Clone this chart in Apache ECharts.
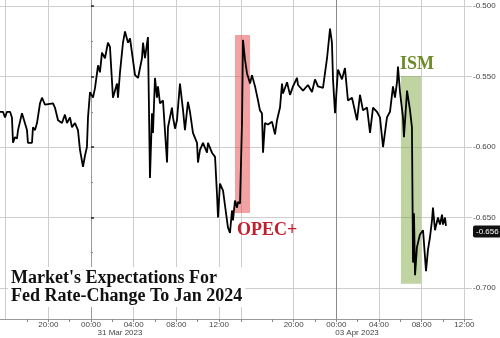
<!DOCTYPE html>
<html>
<head>
<meta charset="utf-8">
<script src="https://cdn.jsdelivr.net/npm/echarts@6/dist/echarts.min.js"></script>
<style>html,body{margin:0;padding:0;background:#fff;}#c{width:500px;height:338px;}</style>
</head>
<body>
<div id="c"></div>
<script>
// x = hours on the chart's compressed trading clock (0 = 00:00, 31 Mar 2023)
const times = [-8.53,-8.25,-8.06,-7.88,-7.59,-7.41,-7.31,-7.13,-6.94,-6.84,-6.47,-6.38,-6.0,-5.91,-5.53,-5.44,-5.25,-5.06,-4.78,-4.59,-4.31,-3.56,-3.38,-3.09,-2.72,-2.44,-2.25,-1.97,-1.78,-1.5,-1.22,-1.03,-0.75,-0.56,-0.38,-0.28,-0.09,0.19,0.38,0.66,0.84,1.03,1.31,1.59,1.78,2.06,2.44,2.53,2.72,3.0,3.19,3.47,3.66,3.84,4.13,4.41,4.78,4.88,5.06,5.34,5.53,5.72,5.81,6.0,6.19,6.28,6.47,6.75,7.13,7.22,7.59,7.69,7.88,8.06,8.34,8.63,8.81,9.09,9.28,9.56,9.94,10.03,10.22,10.5,10.88,10.97,11.34,11.63,11.81,11.91,12.09,12.38,12.75,12.84,13.03,13.22,13.31,13.5,13.69,13.78,13.97,14.16,14.25,14.44,14.63,14.72,14.91,15.09,15.38,15.66,15.84,16.03,16.13,16.31,16.59,16.97,17.25,17.44,17.72,17.91,18.0,18.38,18.66,18.94,19.31,19.41,19.88,20.34,20.72,21.0,21.28,21.75,22.13,22.41,22.59,22.69,22.88,23.16,23.53,23.81,24.09,24.47,24.94,25.22,25.5,25.88,26.16,26.44,26.81,27.09,27.38,27.75,28.03,28.22,28.31,28.5,28.69,28.78,28.97,29.25,29.34,29.63,29.72,29.91,30.09,30.19,30.28,30.38,30.56,30.84,31.13,31.41,31.59,31.78,31.97,32.06,32.25,32.53,32.72,32.91,33.0,33.19,33.28];
const values = [-0.575,-0.575,-0.579,-0.575,-0.575,-0.579,-0.597,-0.593,-0.594,-0.588,-0.576,-0.575,-0.588,-0.597,-0.597,-0.586,-0.588,-0.583,-0.569,-0.565,-0.570,-0.569,-0.572,-0.581,-0.583,-0.577,-0.583,-0.579,-0.586,-0.583,-0.588,-0.602,-0.614,-0.606,-0.600,-0.579,-0.561,-0.565,-0.558,-0.542,-0.547,-0.533,-0.537,-0.526,-0.529,-0.565,-0.555,-0.565,-0.547,-0.526,-0.518,-0.526,-0.523,-0.533,-0.549,-0.551,-0.537,-0.526,-0.537,-0.522,-0.622,-0.576,-0.590,-0.551,-0.565,-0.557,-0.569,-0.567,-0.611,-0.586,-0.572,-0.579,-0.587,-0.581,-0.555,-0.574,-0.588,-0.568,-0.575,-0.590,-0.597,-0.611,-0.602,-0.597,-0.604,-0.597,-0.604,-0.607,-0.633,-0.650,-0.626,-0.631,-0.652,-0.657,-0.661,-0.645,-0.652,-0.638,-0.643,-0.639,-0.640,-0.582,-0.524,-0.538,-0.548,-0.550,-0.555,-0.549,-0.557,-0.567,-0.574,-0.576,-0.604,-0.583,-0.584,-0.582,-0.591,-0.581,-0.572,-0.555,-0.562,-0.554,-0.563,-0.557,-0.551,-0.556,-0.560,-0.556,-0.561,-0.552,-0.557,-0.558,-0.537,-0.516,-0.526,-0.552,-0.576,-0.545,-0.552,-0.544,-0.567,-0.565,-0.581,-0.563,-0.574,-0.572,-0.590,-0.572,-0.575,-0.579,-0.600,-0.579,-0.575,-0.563,-0.557,-0.565,-0.554,-0.543,-0.561,-0.579,-0.593,-0.560,-0.560,-0.574,-0.586,-0.682,-0.647,-0.691,-0.671,-0.662,-0.659,-0.688,-0.673,-0.664,-0.652,-0.643,-0.659,-0.650,-0.655,-0.648,-0.655,-0.650,-0.656];

const yTickValues = [-0.7, -0.65, -0.6, -0.55, -0.5];
const yMinorTicks = [-0.675, -0.625, -0.575, -0.525];
const xTickValues = [-4, 0, 4, 8, 12, 19, 23, 27, 31, 35];
const xTickLabels = ['20:00', '00:00', '04:00', '08:00', '12:00', '20:00', '00:00', '04:00', '08:00', '12:00'];
const xMinorTicks = [-6, -2, 2, 6, 10, 14.06, 17, 21, 25, 29, 33];
const dateValues = [2.72, 24.94];
const dateLabels = ['31 Mar 2023', '03 Apr 2023'];
const dayBreaks = [0, 23];
const dottedVerticals = [-8, -4, 4, 8, 12, 14.06, 19, 27, 31, 35];
const opecBox = { label: 'OPEC+', x0: 13.5, x1: 14.91, y0: -0.5206, y1: -0.6468 };
const ismBox = { label: 'ISM', x0: 29.06, x1: 30.94, y0: -0.5496, y1: -0.697 };
const titleText = "Market's Expectations For\nFed Rate-Change To Jan 2024";

const X_MIN = -8.53, X_MAX = 35.72, Y_MIN = -0.722, Y_MAX = -0.4957;
const lineData = times.map((t, i) => [t, values[i]]);
const lastValue = values[values.length - 1];

const chart = echarts.init(document.getElementById('c'), null, { renderer: 'canvas' });
const sans = 'Liberation Sans, Arial, sans-serif';
const serif = 'Liberation Serif, Times New Roman, serif';
const gridStyle = { type: 'solid', color: '#cdcdcd', width: 1 };

// hidden helper axes that only carry grid lines
const gridAxisX = (vals, style) => ({
  type: 'value', min: X_MIN, max: X_MAX, position: 'bottom',
  axisLine: { show: false }, axisLabel: { show: false },
  axisTick: { show: false, customValues: vals },
  splitLine: { show: true, lineStyle: style }
});

chart.setOption({
  animation: false,
  backgroundColor: '#fff',
  textStyle: { fontFamily: sans },
  title: {
    text: titleText,
    left: 8, top: 267,
    padding: [2, 3],
    backgroundColor: '#fff',
    z: 10,
    textStyle: { fontFamily: serif, fontWeight: 'bold', fontSize: 18, lineHeight: 18, color: '#111' }
  },
  grid: { left: 0, right: 28, top: 0, bottom: 19, containLabel: false },
  xAxis: [{
    type: 'value', min: X_MIN, max: X_MAX,
    axisLine: { show: true, lineStyle: { color: '#999' } },
    axisTick: { show: true, length: 3, lineStyle: { color: '#888' }, customValues: xTickValues.concat(xMinorTicks) },
    splitLine: { show: false },
    axisLabel: {
      show: true, customValues: xTickValues, margin: 2, fontSize: 8, color: '#444',
      formatter: v => { const i = xTickValues.findIndex(t => Math.abs(t - v) < 1e-6); return i >= 0 ? xTickLabels[i] : ''; }
    }
  }, {
    type: 'value', min: X_MIN, max: X_MAX, position: 'bottom', offset: 9,
    axisLine: { show: false }, axisTick: { show: false }, splitLine: { show: false },
    axisLabel: {
      show: true, customValues: dateValues, margin: 1, fontSize: 8, color: '#444',
      formatter: v => { const i = dateValues.findIndex(t => Math.abs(t - v) < 1e-6); return i >= 0 ? dateLabels[i] : ''; }
    }
  },
  gridAxisX(dottedVerticals, gridStyle),
  gridAxisX(dayBreaks, { type: 'solid', color: '#8a8a8a', width: 1 })
  ],
  yAxis: [{
    type: 'value', position: 'right', min: Y_MIN, max: Y_MAX,
    axisLine: { show: true, lineStyle: { color: '#999' } },
    axisTick: { show: true, inside: false, length: 3, lineStyle: { color: '#222', width: 1.5 }, customValues: yTickValues },
    splitLine: { show: false },
    axisLabel: { show: true, customValues: yTickValues, margin: 1, fontSize: 8, color: '#444', formatter: v => v.toFixed(3) }
  }, {
    type: 'value', position: 'right', min: Y_MIN, max: Y_MAX,
    axisLine: { show: false },
    axisTick: { show: true, length: 2, lineStyle: { color: '#888' }, customValues: yMinorTicks },
    splitLine: { show: false },
    axisLabel: { show: false }
  }, {
    type: 'value', position: 'right', min: Y_MIN, max: Y_MAX,
    axisLine: { show: false }, axisLabel: { show: false },
    axisTick: { show: false, customValues: yTickValues },
    splitLine: { show: true, lineStyle: gridStyle }
  }],
  series: [{
    type: 'line', name: 'Fed Jan 2024', data: lineData, z: 3,
    showSymbol: false, symbol: 'none',
    lineStyle: { color: '#000', width: 1.8 },
    markLine: {
      silent: true, symbol: ['none', 'none'],
      lineStyle: { color: 'transparent' },
      label: {
        show: true, position: 'end', distance: 1,
        formatter: () => lastValue.toFixed(3),
        backgroundColor: '#111', color: '#fff', fontSize: 8, padding: [2, 3], borderRadius: 2
      },
      data: [{ yAxis: lastValue }]
    }
  }, {
    type: 'line', name: 'events', data: [], z: 5, silent: true,
    markArea: {
      silent: true,
      data: [
        [{ xAxis: opecBox.x0, yAxis: opecBox.y0, itemStyle: { color: 'rgba(230,70,70,0.5)' },
           label: { show: true, formatter: opecBox.label, position: [0, '100%'], offset: [2, 8], fontFamily: serif, fontWeight: 'bold', fontSize: 18, lineHeight: 18, color: '#c0202e', align: 'left', verticalAlign: 'top' } },
         { xAxis: opecBox.x1, yAxis: opecBox.y1 }],
        [{ xAxis: ismBox.x0, yAxis: ismBox.y0, itemStyle: { color: 'rgba(130,170,70,0.5)' },
           label: { show: true, formatter: ismBox.label, position: [0, 0], offset: [-1, -3], fontFamily: serif, fontWeight: 'bold', fontSize: 18, lineHeight: 18, color: '#6e8b2b', align: 'left', verticalAlign: 'bottom' } },
         { xAxis: ismBox.x1, yAxis: ismBox.y1 }]
      ]
    }
  }]
});
</script>
</body>
</html>
